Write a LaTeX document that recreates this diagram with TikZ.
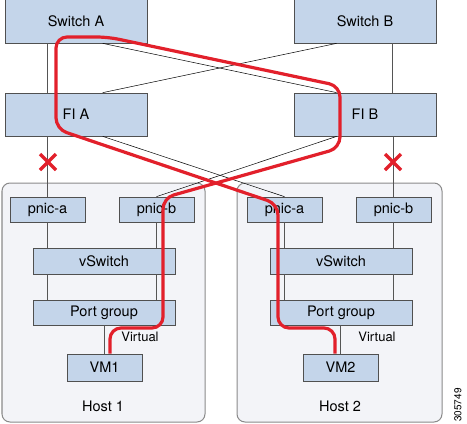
\documentclass[tikz,border=0pt]{standalone}
\usepackage{fontspec}
\setmainfont{TeX Gyre Heros}
\usetikzlibrary{calc}
\definecolor{boxblue}{HTML}{C4D5EA}
\definecolor{boxline}{HTML}{505050}
\definecolor{hostfill}{HTML}{F3F4F8}
\definecolor{hostline}{HTML}{8A8A8A}
\definecolor{pathred}{HTML}{E2202B}
\definecolor{vline}{HTML}{555555}
\tikzset{
  blk/.style={draw=boxline, line width=0.7pt, fill=boxblue, inner sep=0pt,
    font=\fontsize{14.5}{16}\selectfont},
  bigblk/.style={blk, minimum width=142pt},
  smallblk/.style={blk, minimum width=75pt},
  hostbox/.style={draw=hostline, line width=1pt, fill=hostfill, rounded corners=8pt},
  vconn/.style={draw=vline, line width=0.7pt},
  dconn/.style={draw=black, line width=0.5pt},
  redpath/.style={draw=pathred, line width=3.2pt, rounded corners=11pt},
  cross/.style={draw=pathred, line width=3.2pt},
  lbl/.style={inner sep=0pt, font=\fontsize{14.5}{16}\selectfont},
  smalllbl/.style={inner sep=0pt, font=\fontsize{13}{14}\selectfont},
}
\begin{document}
\begin{tikzpicture}[x=1pt,y=-1pt]
\useasboundingbox (0,0) rectangle (467,424);
% hosts
\draw[hostbox] (2,183) rectangle (205,422);
\draw[hostbox] (237,183) rectangle (442,422);
% top boxes
\node[bigblk, minimum height=44pt] (swA) at (76,21) {Switch A};
\node[bigblk, minimum height=44pt] (swB) at (365,21) {Switch B};
\node[bigblk, minimum height=43pt] (fiA) at (76,114.5) {FI A};
\node[bigblk, minimum height=43pt] (fiB) at (365,114.5) {FI B};
% host 1
\node[smallblk, minimum height=25pt] (pa1) at (47.5,209.5) {pnic-a};
\node[smallblk, minimum height=25pt] (pb1) at (156.5,209.5) {pnic-b};
\node[bigblk, minimum height=26pt] (vs1) at (104,261) {vSwitch};
\node[bigblk, minimum height=25pt] (pg1) at (104,312.5) {Port group};
\node[smallblk, minimum height=27pt] (vm1) at (104.5,367.5) {VM1};
\node[lbl] (h1) at (103,406) {Host 1};
\node[smalllbl] (vt1) at (140,337) {Virtual};
% host 2
\node[smallblk, minimum height=25pt] (pa2) at (284.5,209.5) {pnic-a};
\node[smallblk, minimum height=25pt] (pb2) at (393.5,209.5) {pnic-b};
\node[bigblk, minimum height=26pt] (vs2) at (341,261) {vSwitch};
\node[bigblk, minimum height=25pt] (pg2) at (341,312.5) {Port group};
\node[smallblk, minimum height=27pt] (vm2) at (340.5,367.5) {VM2};
\node[lbl] (h2) at (340,406) {Host 2};
\node[smalllbl] (vt2) at (377,337) {Virtual};
\node[inner sep=0pt, rotate=90, font=\fontsize{10}{12}\selectfont] (num) at (458,405) {305749};
% switch to FI
\draw[vconn] ([xshift=43pt]swA.south west) -- ([xshift=43pt]fiA.north west);
\draw[vconn] ([xshift=99pt]swB.south west) -- ([xshift=99pt]fiB.north west);
\draw[dconn] ([xshift=98pt]swA.south west) -- ([xshift=43pt]fiB.north west);
\draw[dconn] ([xshift=43pt]swB.south west) -- ([xshift=98pt]fiA.north west);
% FI to hosts
\draw[vconn] (pa1.north |- fiA.south) -- (pa1.north);
\draw[vconn] (pb2.north |- fiB.south) -- (pb2.north);
\draw[dconn] ([xshift=98pt]fiA.south west) -- (pa2.north);
\draw[dconn] ([xshift=43pt]fiB.south west) -- (pb1.north);
% host internal
\draw[vconn] (pa1.south) -- (pa1.south |- vs1.north);
\draw[vconn] (pb1.south) -- (pb1.south |- vs1.north);
\draw[vconn] (pa1.south |- vs1.south) -- (pa1.south |- pg1.north);
\draw[vconn] (pb1.south |- vs1.south) -- (pb1.south |- pg1.north);
\draw[vconn] (vm1.north |- pg1.south) -- (vm1.north);
\draw[vconn] (pa2.south) -- (pa2.south |- vs2.north);
\draw[vconn] (pb2.south) -- (pb2.south |- vs2.north);
\draw[vconn] (pa2.south |- vs2.south) -- (pa2.south |- pg2.north);
\draw[vconn] (pb2.south |- vs2.south) -- (pb2.south |- pg2.north);
\draw[vconn] (vm2.north |- pg2.south) -- (vm2.north);
% red crosses
\coordinate (xa) at (48,162);
\coordinate (xb) at (393,162);
\draw[cross] ($(xa)+(-8,-8)$) -- ($(xa)+(8,8)$) ($(xa)+(-8,8)$) -- ($(xa)+(8,-8)$);
\draw[cross] ($(xb)+(-8,-8)$) -- ($(xb)+(8,8)$) ($(xb)+(-8,8)$) -- ($(xb)+(8,-8)$);
% red path
\draw[redpath] ([xshift=5.5pt]vm1.north) -- (110,328) -- (163,328) -- (163,198)
  -- (340,148) -- (340,86) -- (108,37) -- (56,37) -- (56,129) -- (278,204)
  -- (278,328) -- (335,328) -- ([xshift=-5.5pt]vm2.north);
\end{tikzpicture}
\end{document}
